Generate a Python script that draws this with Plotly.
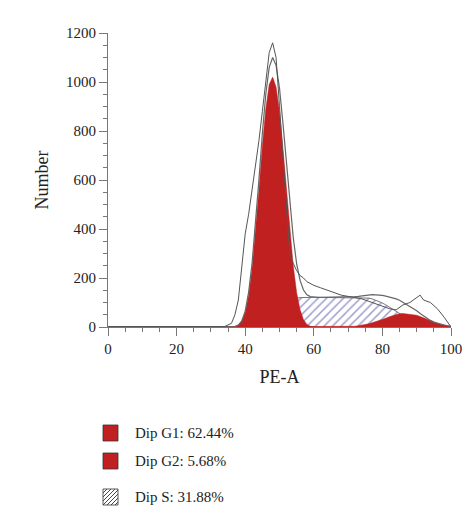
import plotly.graph_objects as go
import numpy as np

grid_x = list(range(30, 101))
g1 = [0,0,0,0,0,0,0,2,8,25,60,130,240,390,560,740,890,990,1020,980,880,730,560,390,250,140,70,30,10,3]
g1 += [0]*(len(grid_x)-len(g1))
s_phase = [0]*10 + [5,12,20,30,40,50,60,70,80,88,95,102,108,112,116,118,120,121,121,121,121,121,121,121,121,121,121,121,121,121,121,121,121,120,120,120,118,115,110,105,98,90,81,72,63,55,46,38,31,24,18,12,8,5,2,0]
s_phase = (s_phase + [0]*100)[:len(grid_x)]
g2 = [0]*41 + [2,3,5,7,10,13,17,21,26,31,36,42,47,52,54,55,54,53,51,48,43,37,31,25,20,15,11,8,5,3,1]
g2 = (g2 + [0]*100)[:len(grid_x)]
fit_total = list(np.array(g1) + np.array(s_phase) + np.array(g2))

raw_x = [0,30,34,36,37,38,39,40,41,42,43,44,45,46,47,48,49,50,51,52,53,54,55,56,57,58,60,62,64,66,68,70,72,74,76,78,80,82,84,86,88,89,90,91,92,94,96,98,100]
raw_y = [0,0,2,15,50,110,250,380,460,560,650,760,880,1000,1120,1160,1100,900,700,480,300,260,230,210,200,185,170,160,150,140,130,125,120,115,105,95,85,75,70,90,100,110,120,130,110,100,75,40,0]

legend_labels = ["Dip G1: 62.44%", "Dip G2: 5.68%", "Dip S: 31.88%"]
xticks = [0, 20, 40, 60, 80, 100]
yticks = [0, 200, 400, 600, 800, 1000, 1200]

red = "#c0201f"
hatch = "#3c3ca0"
fig = go.Figure()
fig.add_trace(go.Scatter(x=[0, 100], y=[0, 0], mode="lines", line=dict(color="#555", width=2), showlegend=False, hoverinfo="skip"))
fig.add_trace(go.Scatter(x=grid_x, y=s_phase, mode="lines", fill="tozeroy", line=dict(color="#777", width=1),
                         fillcolor="white", fillpattern=dict(shape="/", fgcolor=hatch, bgcolor="white", size=6, solidity=0.25),
                         showlegend=False))
fig.add_trace(go.Scatter(x=grid_x, y=g1, mode="lines", fill="tozeroy", line=dict(color=red, width=0.5), fillcolor=red, showlegend=False))
fig.add_trace(go.Scatter(x=grid_x, y=g2, mode="lines", fill="tozeroy", line=dict(color=red, width=0.5), fillcolor=red, showlegend=False))
fig.add_trace(go.Scatter(x=grid_x, y=fit_total, mode="lines", line=dict(color="#666", width=1.2), showlegend=False))
fig.add_trace(go.Scatter(x=raw_x, y=raw_y, mode="lines", line=dict(color="#555", width=1), showlegend=False))
fig.add_trace(go.Scatter(x=[48], y=[-22], mode="markers", marker=dict(symbol="triangle-up", size=10, color="black"),
                         showlegend=False, cliponaxis=False))

# custom legend in paper coordinates (pixel-based)
L, T, W, H = 100, 25, 343, 294
def px(x): return (x - L) / W
def py(y): return (T + H - y) / H
shapes, annotations = [], []
rows = [425, 453, 489]
for i, (yc, lab) in enumerate(zip(rows, legend_labels)):
    x0, x1, y0, y1 = 95, 110, yc - 8, yc + 8
    if i < 2:
        shapes.append(dict(type="rect", xref="paper", yref="paper", x0=px(x0), x1=px(x1), y0=py(y1), y1=py(y0),
                           fillcolor=red, line=dict(color="#333", width=0.8)))
    else:
        shapes.append(dict(type="rect", xref="paper", yref="paper", x0=px(x0), x1=px(x1), y0=py(y1), y1=py(y0),
                           fillcolor="white", line=dict(color="#333", width=0.8)))
        for k in range(-12, 16, 4):
            a0, a1 = k, k + 16
            # line from (x0+a0, y1) to (x0+a1, y0), clipped to box
            sx, sy = x0 + a0, y1
            ex, ey = x0 + a1, y0
            if sx < x0:
                sy -= (x0 - sx); sx = x0
            if ex > x1:
                ey += (ex - x1); ex = x1
            if sy <= ey: continue
            shapes.append(dict(type="line", xref="paper", yref="paper", x0=px(sx), y0=py(sy), x1=px(ex), y1=py(ey),
                               line=dict(color=hatch, width=1)))
    annotations.append(dict(text=lab, xref="paper", yref="paper", x=px(125), y=py(yc), xanchor="left", yanchor="middle",
                            showarrow=False, font=dict(size=15)))

fig.update_layout(
    width=474, height=515, plot_bgcolor="white", paper_bgcolor="white",
    margin=dict(l=100, r=31, t=25, b=196),
    font=dict(family="Liberation Serif", size=15, color="#222"),
    shapes=shapes, annotations=annotations, showlegend=False,
    xaxis=dict(range=[0, 100], tickvals=xticks, ticks="outside", ticklen=8, tickcolor="#777", automargin=False,
               showline=True, linecolor="#777", showgrid=False, zeroline=False,
               minor=dict(dtick=5, ticks="outside", ticklen=4, tickcolor="#777"),
               title=dict(text="PE-A", standoff=14)),
    yaxis=dict(range=[0, 1200], tickvals=yticks, ticks="outside", ticklen=8, tickcolor="#777", automargin=False,
               showline=True, linecolor="#777", showgrid=False, zeroline=False,
               minor=dict(dtick=50, ticks="outside", ticklen=4, tickcolor="#777"),
               title=dict(text="Number", standoff=12)),
)
fig.write_html("out.html")
